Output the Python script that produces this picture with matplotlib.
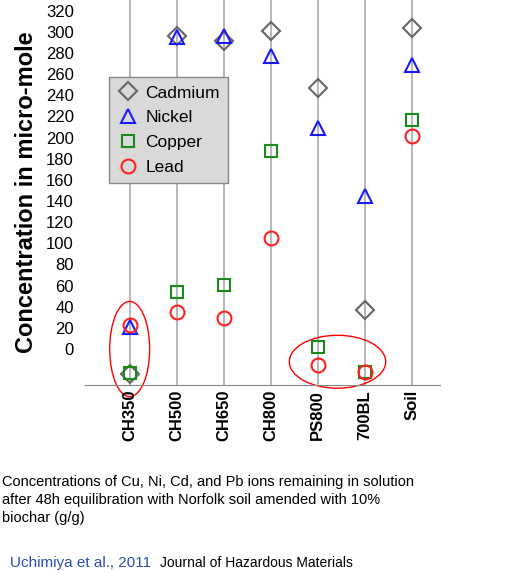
import matplotlib
matplotlib.use("Agg")
import matplotlib.pyplot as plt
from matplotlib.patches import Ellipse

plt.rcParams["font.family"] = ["Liberation Sans", "DejaVu Sans"]

categories = ["CH350", "CH500", "CH650", "CH800", "PS800", "700BL", "Soil"]
cadmium = [-24, 296, 291, 301, 247, 37, 304]
nickel = [21, 295, 296, 277, 209, 145, 269]
copper = [-23, 54, 61, 187, 2, -22, 217]
lead = [23, 35, 29, 105, -15, -22, 201]
yticks = list(range(0, 321, 20))

W, H = 507, 573
fig = plt.figure(figsize=(W/100, H/100), dpi=100)
ax = fig.add_axes([85/W, 1-385/H, 355/W, 385/H])
x = list(range(len(categories)))
ax.set_xlim(-0.95, 6.6)
ax.set_ylim(-34, 330)
for xi in x:
    ax.axvline(xi, color="#aaaaaa", lw=1.2, zorder=0)
kw = dict(ls="none", ms=10, mfc="none", mew=1.5)
ax.plot(x, cadmium, marker="D", color="#666666", label="Cadmium", ms=9, mfc="none", mew=1.5, ls="none")
ax.plot(x, nickel, marker="^", color="#1a1aff", label="Nickel", **kw)
ax.plot(x, copper, marker="s", color="#1a8a1a", label="Copper", ms=9, mfc="none", mew=1.5, ls="none")
ax.plot(x, lead, marker="o", color="#ff2020", label="Lead", **kw)
ax.set_yticks(yticks)
ax.set_xticks(x)
ax.set_xticklabels(categories, rotation=90, fontsize=12, fontweight="bold")
ax.tick_params(axis="y", labelsize=12, length=0, pad=8)
ax.tick_params(axis="x", length=0)
for s in ["top", "right", "left"]:
    ax.spines[s].set_visible(False)
ax.spines["bottom"].set_color("#888888")
ax.set_ylabel("Concentration in micro-mole", fontsize=17, fontweight="bold", labelpad=6)
ax.legend(loc="upper left", bbox_to_anchor=(15/355, 1-68/385), fontsize=12.5,
          facecolor="#d9d9d9", edgecolor="#888888", framealpha=1, fancybox=False,
          handletextpad=0.4, labelspacing=0.55, borderpad=0.5, handlelength=1.2)
ax.add_patch(Ellipse((0, 0), 0.85, 90, fill=False, color="red", lw=1, clip_on=False))
ax.add_patch(Ellipse((4.42, -12), 2.05, 50, fill=False, color="red", lw=1, clip_on=False))
fig.text(2/W, 1-500/H, "Concentrations of Cu, Ni, Cd, and Pb ions remaining in solution\nafter 48h equilibration with Norfolk soil amended with 10%\nbiochar (g/g)",
         fontsize=10.5, va="center", linespacing=1.35)
fig.text(10/W, 1-563/H, "Uchimiya et al., 2011", fontsize=11, color="#2a4fb0", va="center")
fig.text(160/W, 1-563/H, "Journal of Hazardous Materials", fontsize=10, color="black", va="center")
fig.savefig("out.png", dpi=100)
